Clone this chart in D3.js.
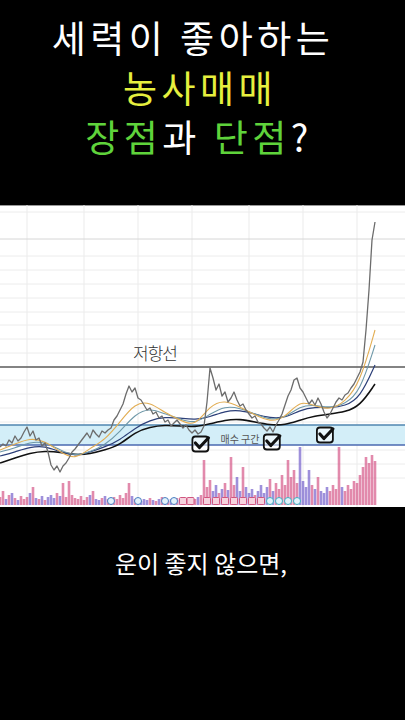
<!DOCTYPE html>
<html>
<head>
<meta charset="utf-8">
<script src="https://cdn.jsdelivr.net/npm/d3@7"></script>
<style>
  html, body { margin: 0; padding: 0; background: #000; }
  svg { display: block; }
</style>
</head>
<body>
<svg width="405" height="720"></svg>
<script>
// daily close (one value per trading day)
var prices = [33,36,34,40,37,44,39,42,48,53, 44,49,40,42,34,37,28,15,10,14,
              8,14,17,22,28,31,35,39,43,47, 42,50,46,43,49,47,50,52,60,64,
              70,76,86,94,88,92,82,80,75,70, 72,66,68,62,64,58,60,54,57,60,
              56,52,55,50,47,50,46,48,54,78, 112,102,90,96,84,88,78,82,88,80,
              74,76,70,66,62,64,58,56,52,49, 53,48,55,60,66,75,84,90,100,102,
              92,88,82,76,80,75,82,76,68,62, 66,72,78,82,80,85,87,92,96,102,
              108,118,150,190,240,258];

var volumes = [8,14,6,10,12,7,5,9,6,8, 12,18,7,6,9,5,8,10,7,12,
               9,22,8,24,10,7,6,9,5,8, 10,14,6,5,7,9,6,5,8,6,
               10,7,12,22,9,6,5,4,6,5, 7,5,4,6,8,5,4,6,5,7,
               5,4,6,5,7,6,8,10,45,18, 25,14,20,12,16,22,15,48,20,28,
               14,38,18,12,16,10,14,20,12,18, 26,14,22,16,30,20,45,28,35,22,
               58,24,18,35,20,16,28,14,12,18, 14,20,16,58,18,14,20,16,24,22,
               30,38,48,42,50,44];

// moving averages, sampled every 5 days
var maDays = [0,5,10,15,20,25,30,35,40,45,50,55,60,65,70,75,80,85,90,95,100,105,110,115,120,125];
var ma5   = [30,36,42,39,28,20,32,40,58,77,78,67,60,53,75,80,73,65,58,62,80,74,70,78,97,150];
var ma20  = [28,32,38,38,30,24,28,35,48,66,72,66,61,56,66,74,72,66,60,62,74,75,72,76,88,135];
var ma60  = [24,28,33,34,28,24,28,33,40,52,60,63,62,60,63,69,70,66,62,62,70,73,72,74,82,115];
var ma120 = [17,22,27,29,28,25,26,30,35,48,53,55,54,53,56,60,61,58,55,55,60,64,66,68,74,96];

var resistance = 113;
var buyZone = [35, 55];
var checks = [{day: 66.8, price: 36}, {day: 90.6, price: 38}, {day: 108.3, price: 45}];
var events = [{day: 37, k: "c"}, {day: 46, k: "c"}, {day: 55, k: "c"}, {day: 58, k: "c"},
              {day: 61, k: "s"}, {day: 63.5, k: "s"}, {day: 69, k: "s"}, {day: 72, k: "s"},
              {day: 75, k: "s"}, {day: 78, k: "s"}, {day: 81, k: "s"}, {day: 84, k: "s"},
              {day: 87, k: "s"}, {day: 90, k: "t"}, {day: 93, k: "t"}, {day: 96, k: "t"},
              {day: 99, k: "t"}];

var gridDays = [9, 28, 46, 64, 83, 101, 119];
var gridPrices = [268, 241, 224, 210, 196, 182, 168, 155, 141, 127, 100, 86, 72, 58, 44, 30, 16, 2];

var svg = d3.select("svg");
var fontKR = "'Noto Sans CJK KR', 'Noto Sans', sans-serif";

// title
var title = svg.append("g").attr("font-family", fontKR).attr("font-size", 37)
    .attr("font-weight", 400).attr("letter-spacing", 4.5)
    .attr("text-anchor", "middle").attr("dominant-baseline", "central");
title.append("text").attr("x", 193).attr("y", 37).attr("fill", "#fff").text("세력이 좋아하는");
title.append("text").attr("x", 200).attr("y", 86.5).attr("fill", "#e6ef3e").text("농사매매");
var t3 = title.append("text").attr("x", 199).attr("y", 135.5);
t3.append("tspan").attr("fill", "#5fd33b").text("장점");
t3.append("tspan").attr("fill", "#fff").text("과 ");
t3.append("tspan").attr("fill", "#5fd33b").text("단점");
t3.append("tspan").attr("fill", "#fff").text("?");

// chart panel
var panelTop = 205, panelBottom = 507;
svg.append("rect").attr("x", 0).attr("y", panelTop).attr("width", 405)
    .attr("height", panelBottom - panelTop).attr("fill", "#fff");
svg.append("line").attr("x1", 0).attr("x2", 405).attr("y1", panelTop + 0.5).attr("y2", panelTop + 0.5)
    .attr("stroke", "#999").attr("stroke-width", 1);

var x = d3.scaleLinear().domain([0, prices.length - 1]).range([0, 375]);
var y = d3.scaleLinear().domain([0, 260]).range([480, 220]);
var yVol = d3.scaleLinear().domain([0, 60]).range([505, 445]);

var g = svg.append("g");

g.selectAll(".vgrid").data(gridDays).enter().append("line")
    .attr("x1", function(d){ return x(d); }).attr("x2", function(d){ return x(d); })
    .attr("y1", panelTop).attr("y2", panelBottom)
    .attr("stroke", "#ebebeb").attr("stroke-width", 1);
g.selectAll(".hgrid").data(gridPrices).enter().append("line")
    .attr("x1", 0).attr("x2", 405)
    .attr("y1", function(d){ return y(d); }).attr("y2", function(d){ return y(d); })
    .attr("stroke", function(d){ return d === 241 ? "#d6d6d6" : "#ececec"; })
    .attr("stroke-width", 1);

// buy zone
g.append("rect").attr("x", 0).attr("width", 405)
    .attr("y", y(buyZone[1])).attr("height", y(buyZone[0]) - y(buyZone[1]))
    .attr("fill", "#d3eef8");
g.selectAll(".zoneEdge").data(buyZone).enter().append("line")
    .attr("x1", 0).attr("x2", 405)
    .attr("y1", function(d){ return y(d); }).attr("y2", function(d){ return y(d); })
    .attr("stroke", function(d, i){ return i ? "#4f86b0" : "#4a68b0"; }).attr("stroke-width", 1.5);

// resistance
g.append("line").attr("x1", 0).attr("x2", 405)
    .attr("y1", y(resistance)).attr("y2", y(resistance))
    .attr("stroke", "#5a5a5a").attr("stroke-width", 1.5);

// volume
g.selectAll(".vol").data(volumes).enter().append("rect")
    .attr("x", function(d, i){ return x(i) - 1.3; })
    .attr("width", 2.6)
    .attr("y", function(d){ return yVol(d); })
    .attr("height", function(d){ return yVol(0) - yVol(d); })
    .attr("fill", function(d, i){ return i > 0 && prices[i] < prices[i - 1] ? "#6a55c8" : "#d24c80"; })
    .attr("opacity", 0.65);

// event markers on volume pane
g.selectAll(".ev").data(events).enter().append("rect")
    .attr("x", function(d){ return x(d.day) - 3.5; })
    .attr("y", 497.5).attr("width", 7).attr("height", 7)
    .attr("rx", function(d){ return d.k === "s" ? 1 : 3.5; })
    .attr("fill", function(d){ return d.k === "s" ? "#f6d2de" : "#e2f2fb"; })
    .attr("stroke", function(d){ return d.k === "s" ? "#d0557f" : (d.k === "t" ? "#3fb0c0" : "#4a7ec0"); })
    .attr("stroke-width", 1);

// moving averages
var maLine = d3.line()
    .x(function(d, i){ return x(maDays[i]); })
    .y(function(d){ return y(d); })
    .curve(d3.curveBasis);
var maSeries = [
  {v: ma120, c: "#111", w: 1.6},
  {v: ma60, c: "#2c3f78", w: 1.2},
  {v: ma20, c: "#6e98a8", w: 1.1},
  {v: ma5, c: "#e2ad52", w: 1.1}
];
g.selectAll(".ma").data(maSeries).enter().append("path")
    .attr("d", function(d){ return maLine(d.v); })
    .attr("fill", "none")
    .attr("stroke", function(d){ return d.c; })
    .attr("stroke-width", function(d){ return d.w; });

// price
var priceLine = d3.line()
    .x(function(d, i){ return x(i); })
    .y(function(d){ return y(d); });
g.append("path").attr("d", priceLine(prices))
    .attr("fill", "none").attr("stroke", "#6c6c6c").attr("stroke-width", 1.3)
    .attr("stroke-linejoin", "round");

// check boxes
var cb = g.selectAll(".check").data(checks).enter().append("g")
    .attr("transform", function(d){ return "translate(" + x(d.day) + "," + y(d.price) + ")"; });
cb.append("rect").attr("x", -8).attr("y", -7.5).attr("width", 16).attr("height", 15).attr("rx", 3)
    .attr("fill", "rgba(255,255,255,0.55)").attr("stroke", "#111").attr("stroke-width", 1.8);
cb.append("path").attr("d", "M-5,-1 L-1,3.5 L8,-6")
    .attr("fill", "none").attr("stroke", "#111").attr("stroke-width", 3.2)
    .attr("stroke-linecap", "round").attr("stroke-linejoin", "round");

// labels
g.append("text").attr("x", 155).attr("y", 352).attr("text-anchor", "middle")
    .attr("dominant-baseline", "central").attr("font-family", fontKR)
    .attr("font-size", 17).attr("font-weight", 300).attr("letter-spacing", -1)
    .attr("fill", "#333").text("저항선");
g.append("text").attr("x", 240).attr("y", 438).attr("text-anchor", "middle")
    .attr("dominant-baseline", "central").attr("font-family", fontKR)
    .attr("font-size", 10).attr("fill", "#555").text("매수 구간");

// subtitle
svg.append("text").attr("x", 201).attr("y", 562).attr("text-anchor", "middle")
    .attr("dominant-baseline", "central").attr("font-family", fontKR)
    .attr("font-size", 24).attr("fill", "#fff").text("운이 좋지 않으면,");
</script>
</body>
</html>
